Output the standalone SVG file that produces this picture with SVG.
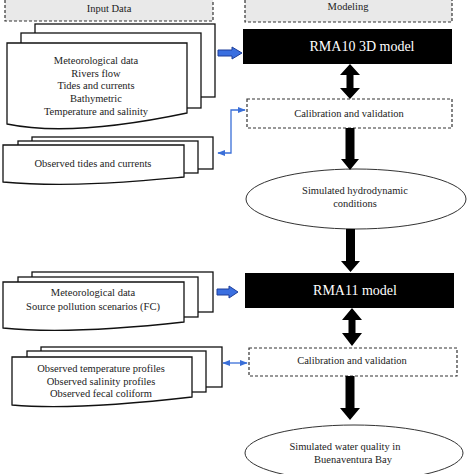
<svg xmlns="http://www.w3.org/2000/svg" width="474" height="474" viewBox="0 0 474 474">
<defs>
<style>
text{font-family:"Liberation Serif","DejaVu Serif",serif;font-size:10.5px;fill:#222;text-anchor:middle}
.hdr{fill:#e9e9e9;stroke:#333;stroke-width:1.2;stroke-dasharray:3 2}
.cal{fill:#fff;stroke:#333;stroke-width:1.2;stroke-dasharray:3 2}
.model{fill:#000}
.mt{fill:#fff;font-size:14px}
.pg{fill:#fff;stroke:#111;stroke-width:1.3}
.ell{fill:#fff;stroke:#333;stroke-width:1}
.blk{fill:#000}
.blue{fill:#3a6fe0;stroke:#1f3f9a;stroke-width:1}
.thin{fill:none;stroke:#3a6fd8;stroke-width:1.3}
</style>
<marker id="bh" viewBox="0 0 10 10" refX="9" refY="5" markerWidth="6" markerHeight="6" orient="auto-start-reverse">
<path d="M0,1 L10,5 L0,9 Z" fill="#3a6fd8"/>
</marker>
</defs>

<g id="input-header"><rect class="hdr" x="5" y="-5" width="208" height="26"/><text x="109" y="12">Input Data</text></g>
<g id="modeling-header"><rect class="hdr" x="245" y="-5" width="207" height="27"/><text x="348" y="10">Modeling</text></g>

<g id="doc1">
<rect class="pg" x="35" y="24" width="180" height="73"/>
<rect class="pg" x="21" y="33" width="180" height="75"/>
<path class="pg" d="M7,43 H187 V113 C130,125 60,135 7,124 Z"/>
<text x="96" y="64">Meteorological data</text>
<text x="96" y="77">Rivers flow</text>
<text x="96" y="89">Tides and currents</text>
<text x="96" y="102">Bathymetric</text>
<text x="96" y="115">Temperature and salinity</text>
</g>

<g id="doc2">
<rect class="pg" x="32" y="137" width="181" height="32"/>
<rect class="pg" x="18" y="141" width="180" height="32"/>
<path class="pg" d="M3,145 H184 V177 C140,181 70,188 3,182 Z"/>
<text x="93" y="167">Observed tides and currents</text>
</g>

<g id="doc3">
<rect class="pg" x="32" y="272" width="181" height="40"/>
<rect class="pg" x="18" y="277" width="180" height="40"/>
<path class="pg" d="M3,282 H184 V322 C130,328 60,334 3,328 Z"/>
<text x="93" y="296">Meteorological data</text>
<text x="93" y="310">Source pollution scenarios (FC)</text>
</g>

<g id="doc4">
<rect class="pg" x="41" y="347" width="181" height="40"/>
<rect class="pg" x="27" y="351" width="179" height="41"/>
<path class="pg" d="M12,357 H192 V397 C140,403 70,410 12,405 Z"/>
<text x="101" y="372">Observed temperature profiles</text>
<text x="101" y="385">Observed salinity profiles</text>
<text x="101" y="397">Observed fecal coliform</text>
</g>

<g id="rma10"><rect class="model" x="243" y="29" width="209" height="35"/><text class="mt" x="362" y="51">RMA10 3D model</text></g>
<g id="cal1"><rect class="cal" x="247" y="99" width="205" height="29"/><text x="349" y="117">Calibration and validation</text></g>
<g id="sim1"><ellipse class="ell" cx="356" cy="199" rx="110" ry="30"/><text x="355" y="194">Simulated hydrodynamic</text><text x="355" y="207">conditions</text></g>
<g id="rma11"><rect class="model" x="245" y="273" width="209" height="35"/><text class="mt" x="355" y="295">RMA11 model</text></g>
<g id="cal2"><rect class="cal" x="249" y="348" width="208" height="28"/><text x="352" y="364">Calibration and validation</text></g>
<g id="sim2"><ellipse class="ell" cx="354" cy="453" rx="109" ry="28"/><text x="345" y="450">Simulated water quality in</text><text x="353" y="463">Buenaventura Bay</text></g>

<g id="connectors">
<!-- double arrow RMA10 <-> cal1 -->
<path class="blk" d="M350,64 L360,75 L353.5,75 L353.5,88 L360,88 L350,99 L340,88 L346.5,88 L346.5,75 L340,75 Z"/>
<!-- down arrow cal1 -> sim1 -->
<path class="blk" d="M345.5,128 H354.5 V159 H359 L350,170 L341,159 H345.5 Z"/>
<!-- down arrow sim1 -> rma11 -->
<path class="blk" d="M346,229 H355 V261 H360 L350.5,272 L341,261 H346 Z"/>
<!-- double arrow RMA11 <-> cal2 -->
<path class="blk" d="M352,308 L362,320 L355.5,320 L355.5,333 L362,333 L352,346 L342,333 L348.5,333 L348.5,320 L342,320 Z"/>
<!-- down arrow cal2 -> sim2 -->
<path class="blk" d="M345.5,376 H354.5 V408 H360 L350,420 L340,408 H345.5 Z"/>
<!-- blue block arrows -->
<path class="blue" d="M218,50 H232 V47 L242,53 L232,59 V56 H218 Z"/>
<path class="blue" d="M217,289 H229 V286 L238,292 L229,298 V295 H217 Z"/>
<!-- thin blue connectors -->
<polyline class="thin" points="218,153 231,153 231,110 245,110" marker-start="url(#bh)" marker-end="url(#bh)"/>
<line class="thin" x1="223" y1="363" x2="247" y2="363" marker-start="url(#bh)" marker-end="url(#bh)"/>
</g>
</svg>
